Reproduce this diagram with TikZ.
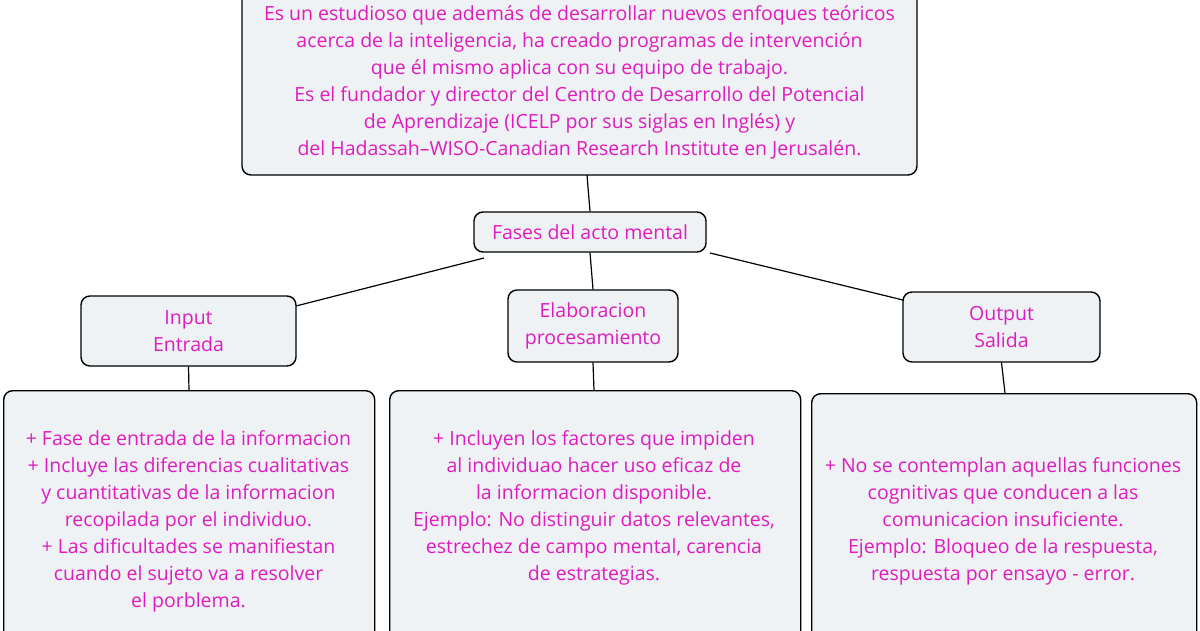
\documentclass[tikz,border=0pt]{standalone}
\usepackage{fontspec}
\setmainfont{Open Sans}
\definecolor{txt}{HTML}{E01CC0}
\definecolor{boxf}{HTML}{EEF2F4}
\begin{document}
\begin{tikzpicture}[x=1pt,y=-1pt,
 bx/.style={draw=black,line width=1.4pt,fill=boxf,rounded corners=9pt,inner sep=0pt,align=center,text=txt,font=\fontsize{19.5}{27}\selectfont},
 tx/.style={text=txt,align=center,font=\fontsize{19.5}{27}\selectfont},
 ln/.style={line width=1.2pt}]
\useasboundingbox (0,0) rectangle (1200,630);
\clip (0,0) rectangle (1200,630);
\fill[white] (0,0) rectangle (1200,630);
\node[bx,minimum width=675pt,minimum height=185pt] (top) at (579.5,82.5) {Es un estudioso que además de desarrollar nuevos enfoques teóricos\\acerca de la inteligencia, ha creado programas de intervención\\que él mismo aplica con su equipo de trabajo.\\Es el fundador y director del Centro de Desarrollo del Potencial\\de Aprendizaje (ICELP por sus siglas en Inglés) y\\del Hadassah–WISO-Canadian Research Institute en Jerusalén.};
\node[bx,minimum width=232pt,minimum height=40pt] (fases) at (590,232) {Fases del acto mental};
\node[bx,minimum width=215pt,minimum height=70pt] (in) at (188.5,331) {Input\\Entrada};
\node[bx,minimum width=170pt,minimum height=72pt] (el) at (593,326) {Elaboracion\\procesamiento};
\node[bx,minimum width=197pt,minimum height=70pt] (out) at (1001.5,327) {Output\\Salida};
\node[bx,minimum width=371pt,minimum height=250pt,anchor=north west] (b1) at (3,390) {};
\node[tx] at (188.5,521) {+ Fase de entrada de la informacion\\+ Incluye las diferencias cualitativas\\y cuantitativas de la informacion\\recopilada por el individuo.\\+ Las dificultades se manifiestan\\cuando el sujeto va a resolver\\el porblema.};
\node[bx,minimum width=411pt,minimum height=250pt,anchor=north west] (b2) at (389,390) {};
\node[tx] at (594,508) {+ Incluyen los factores que impiden\\al individuao hacer uso eficaz de\\la informacion disponible.\\Ejemplo: No distinguir datos relevantes,\\estrechez de campo mental, carencia\\de estrategias.};
\node[bx,minimum width=385pt,minimum height=247pt,anchor=north west] (b3) at (811,393) {};
\node[tx] at (1003,521) {+ No se contemplan aquellas funciones\\cognitivas que conducen a las\\comunicacion insuficiente.\\Ejemplo: Bloqueo de la respuesta,\\respuesta por ensayo - error.};
\draw[ln] (587,175) -- (fases.north);
\draw[ln] (484,258) -- (296,306);
\draw[ln] (fases.south) -- (el.north);
\draw[ln] (710,253) -- (903,300);
\draw[ln] (in.south) -- (189,390);
\draw[ln] (el.south) -- (594,390);
\draw[ln] (out.south) -- (1005,393);
\end{tikzpicture}
\end{document}
